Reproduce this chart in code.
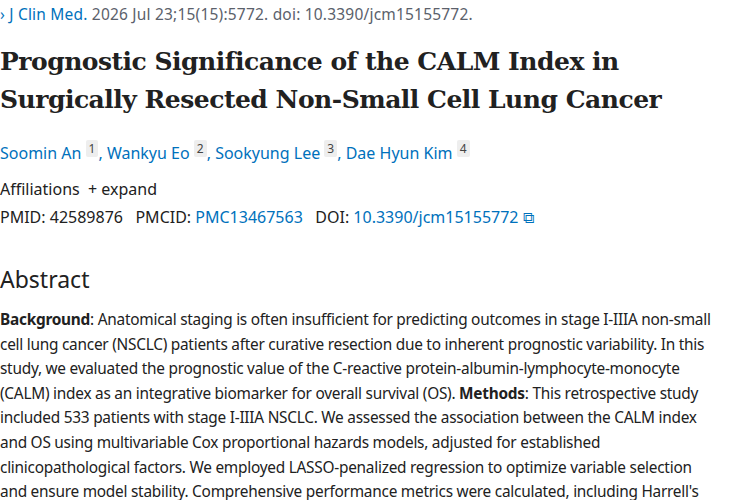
<!DOCTYPE html>
<html><head><meta charset="utf-8">
<script src="https://cdn.jsdelivr.net/npm/chart.js@4"></script>
<style>
html,body{margin:0;padding:0;width:750px;height:500px;overflow:hidden;background:#fff;}
body{font-family:"Noto Sans","Open Sans",sans-serif;color:#212121;}
.wrap{position:relative;left:0;top:0;width:750px;}
.cit{position:absolute;top:3px;left:0;font-size:15.5px;color:#5b616b;white-space:nowrap;letter-spacing:0.2px;}
.cit a{color:#0071bc;text-decoration:none;}
h1{position:absolute;top:43px;left:0;margin:0;font-family:"DejaVu Serif",serif;font-weight:bold;font-size:25px;line-height:38px;color:#212121;letter-spacing:-0.5px;}
.auth{position:absolute;top:140px;left:0;font-size:16px;color:#0071bc;white-space:nowrap;}
.auth sup{display:inline-block;background:#eee;color:#444;font-size:12px;padding:0 3px;border-radius:2px;vertical-align:6px;}
.aff{position:absolute;top:178px;left:0;font-size:16px;white-space:nowrap;}
.ids{position:absolute;top:206px;left:0;font-size:16px;white-space:nowrap;}
.ids a{color:#0071bc;text-decoration:none;}
h2{position:absolute;top:263px;left:0;margin:0;font-weight:normal;font-size:23px;font-family:"Noto Sans",sans-serif;}
.abs{position:absolute;top:308px;left:0;width:750px;font-size:15.4px;line-height:24.6px;white-space:nowrap;letter-spacing:-0.25px;}
</style></head><body>
<div class="wrap">
<div class="cit"><a>›</a> <a>J Clin Med.</a> 2026 Jul 23;15(15):5772. doi: 10.3390/jcm15155772.</div>
<h1>Prognostic Significance of the CALM Index in<br>Surgically Resected Non-Small Cell Lung Cancer</h1>
<div class="auth">Soomin An <sup>1</sup>, Wankyu Eo <sup>2</sup>, Sookyung Lee <sup>3</sup>, Dae Hyun Kim <sup>4</sup></div>
<div class="aff">Affiliations &nbsp;+ expand</div>
<div class="ids">PMID: 42589876 &nbsp;&nbsp;PMCID: <a>PMC13467563</a> &nbsp;&nbsp;DOI: <a>10.3390/jcm15155772 ⧉</a></div>
<h2>Abstract</h2>
<div class="abs"><b>Background</b>: Anatomical staging is often insufficient for predicting outcomes in stage I-IIIA non-small<br>cell lung cancer (NSCLC) patients after curative resection due to inherent prognostic variability. In this<br>study, we evaluated the prognostic value of the C-reactive protein-albumin-lymphocyte-monocyte<br>(CALM) index as an integrative biomarker for overall survival (OS). <b>Methods</b>: This retrospective study<br>included 533 patients with stage I-IIIA NSCLC. We assessed the association between the CALM index<br>and OS using multivariable Cox proportional hazards models, adjusted for established<br>clinicopathological factors. We employed LASSO-penalized regression to optimize variable selection<br>and ensure model stability. Comprehensive performance metrics were calculated, including Harrell's</div>
</div>
</body></html>
